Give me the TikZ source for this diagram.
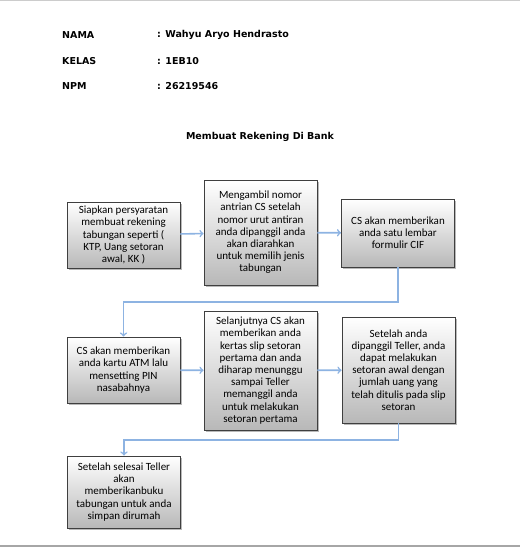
\documentclass[tikz,border=0pt]{standalone}
\usepackage{fontspec}
\setmainfont{Carlito}
\newfontfamily\headfont{DejaVu Sans}
\usepackage{tikz}
\usetikzlibrary{arrows,%
                shadows}
\definecolor{linkblue}{HTML}{8DB3E2}
\definecolor{boxline}{HTML}{3F3F3F}
\definecolor{boxgrey}{HTML}{B8B8B8}

\begin{document}
\begin{tikzpicture}[x=1pt,y=-1pt]
  \useasboundingbox (0,0) rectangle (520,548);
  \draw[gray!40,line width=1.5pt] (0,0.75) -- (520,0.75);
  \draw[gray!70,line width=1.5pt] (0,546) -- (520,546);
  \tikzstyle{HeadStyle}=[anchor=west,inner sep=0pt,font=\headfont\bfseries\fontsize{9.5}{11}\selectfont]
  \tikzstyle{BoxStyle}=[draw=boxline,line width=0.9pt,top color=white,bottom color=boxgrey,
    drop shadow={shadow xshift=1.5pt,shadow yshift=-1.5pt,opacity=0.55},
    minimum width=113pt,inner sep=2pt,align=center,
    font=\fontsize{11}{12.2}\selectfont]
  \tikzstyle{EdgeStyle}=[draw=linkblue,line width=1.6pt,-to]
  % identitas
  \node[HeadStyle] (nama) at (62,35) {NAMA};
  \node[HeadStyle] (namaIsi) at (157,35) {: Wahyu Aryo Hendrasto};
  \node[HeadStyle] (kelas) at (62,61) {KELAS};
  \node[HeadStyle] (kelasIsi) at (157,61) {: 1EB10};
  \node[HeadStyle] (npm) at (62,86) {NPM};
  \node[HeadStyle] (npmIsi) at (157,86) {: 26219546};
  \node[HeadStyle,anchor=center] (judul) at (260,137) {Membuat Rekening Di Bank};
  % langkah
  \node[BoxStyle,minimum height=66pt] (A) at (123.5,235) {Siapkan persyaratan\\ membuat rekening\\ tabungan seperti (\\ KTP, Uang setoran\\ awal, KK )};
  \node[BoxStyle,minimum height=105pt] (B) at (260.5,232.5) {Mengambil nomor\\ antrian CS setelah\\ nomor urut antiran\\ anda dipanggil anda\\ akan diarahkan\\ untuk memilih jenis\\ tabungan};
  \node[BoxStyle,minimum height=68pt] (C) at (398,233) {CS akan memberikan\\ anda satu lembar\\ formulir CIF};
  \node[BoxStyle,minimum height=66pt] (D) at (123.5,370) {CS akan memberikan\\ anda kartu ATM lalu\\ mensetting PIN\\ nasabahnya};
  \node[BoxStyle,minimum height=119pt] (E) at (260.5,370.5) {Selanjutnya CS akan\\ memberikan anda\\ kertas slip setoran\\ pertama dan anda\\ diharap menunggu\\ sampai Teller\\ memanggil anda\\ untuk melakukan\\ setoran pertama};
  \node[BoxStyle,minimum height=106pt] (F) at (398.5,370) {Setelah anda\\ dipanggil Teller, anda\\ dapat melakukan\\ setoran awal dengan\\ jumlah uang yang\\ telah ditulis pada slip\\ setoran};
  \node[BoxStyle,minimum height=72pt] (G) at (124,492) {Setelah selesai Teller\\ akan\\ memberikanbuku\\ tabungan untuk anda\\ simpan dirumah};
  \coordinate (T1) at (260,302);
  \coordinate (T2) at (260,440);
  \draw[EdgeStyle] (A) -- (B);
  \draw[EdgeStyle] (B) -- (C);
  \draw[EdgeStyle] (C.south) |- (T1) -| (D.north);
  \draw[EdgeStyle] (D) -- (E);
  \draw[EdgeStyle] (E) -- (F);
  \draw[EdgeStyle] (F.south) |- (T2) -| (G.north);
\end{tikzpicture}
\end{document}
